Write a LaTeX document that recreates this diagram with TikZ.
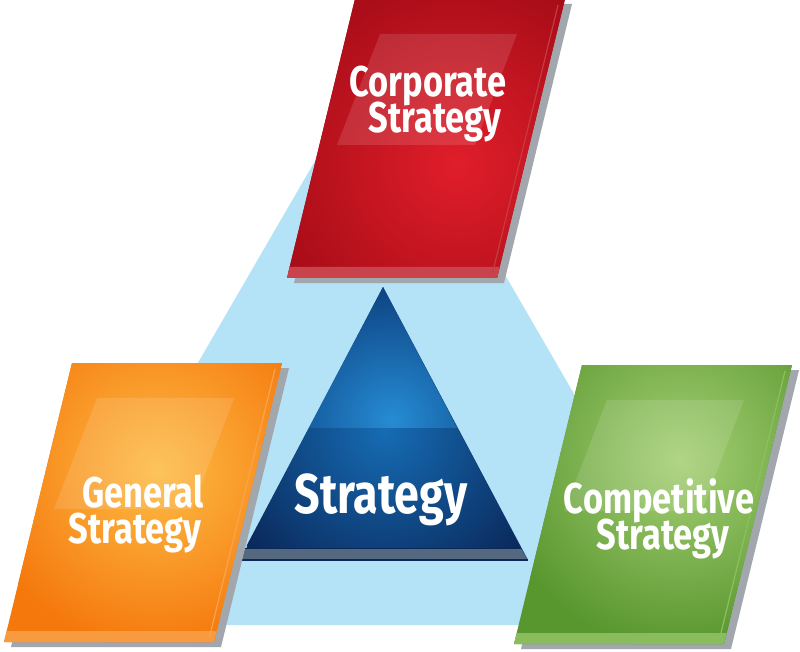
\documentclass[tikz,border=0pt]{standalone}
\usepackage{fontspec}
\usetikzlibrary{calc}
\newfontfamily\lblfont{Fira Sans}
\definecolor{lightbg}{HTML}{B4E2F6}
\definecolor{boxshadow}{HTML}{A2A7AE}
\definecolor{redbase}{HTML}{A50C17}
\definecolor{redlight}{HTML}{E01E2A}
\definecolor{redband}{HTML}{C8434C}
\definecolor{redrim}{HTML}{C63A44}
\definecolor{orbase}{HTML}{F5780C}
\definecolor{orlight}{HTML}{FDBC46}
\definecolor{orband}{HTML}{F89A40}
\definecolor{orrim}{HTML}{F9A350}
\definecolor{grbase}{HTML}{58962E}
\definecolor{grlight}{HTML}{A6D075}
\definecolor{grband}{HTML}{88BC5C}
\definecolor{grrim}{HTML}{8CC05C}
\definecolor{navy}{HTML}{0A3A78}
\definecolor{navydark}{HTML}{0A285A}
\definecolor{trimid}{HTML}{268CD4}
\definecolor{trilow}{HTML}{166CB4}
\definecolor{tristrip}{HTML}{546880}
\tikzset{
  lbl/.style={anchor=base, inner sep=0pt, text=white,
    font=\lblfont\bfseries\fontsize{43}{43}\selectfont},
  biglbl/.style={anchor=base, inner sep=0pt, text=white,
    font=\lblfont\bfseries\fontsize{56}{56}\selectfont},
}
\newcommand\bookbox[7]{%
  \begin{scope}[shift={#1}]
    \fill[boxshadow] (7,5) -- (217,5) -- (149,284) -- (-61,284) -- cycle;
    \fill[#2] (0,0) -- (210,0) -- (142,279) -- (-68,279) -- cycle;
    \begin{scope}
      \clip (0,0) -- (210,0) -- (142,279) -- (-68,279) -- cycle;
      \shade[inner color=#3, outer color=#2] #4 circle (#7);
    \end{scope}
    \fill[white, opacity=0.12] (25,35) -- (162,35) -- (120,146) -- (-18,146) -- cycle;
    \fill[#5] (-65.3,268) -- (144.7,268) -- (142,279) -- (-68,279) -- cycle;
    \draw[#6, line width=1.2pt] (203,6) -- (137.5,274);
  \end{scope}}
\newcommand\sx[1]{\scalebox{0.8}[1]{#1}}
\newcommand\twoline[2]{\vtop{\lineskiplimit=-60pt\baselineskip=36pt\lineskip=0pt
  \halign{\hfil##\hfil\cr #1\cr #2\cr}}}
\begin{document}
\begin{tikzpicture}[x=1pt,y=-1pt]
  \useasboundingbox (0,0) rectangle (800,652);
  \clip (0,0) rectangle (800,652);
  \fill[white] (0,0) rectangle (800,652);
  % light blue background triangle
  \fill[lightbg] (377,54) -- (708,625) -- (46,625) -- cycle;
  % central triangle
  \fill[navy] (383,287) -- (528,560) -- (240,560) -- cycle;
  \begin{scope}
    \clip (383,287) -- (457.3,428) -- (308.7,428) -- cycle;
    \shade[inner color=trimid, outer color=navy] (392,420) circle (150);
  \end{scope}
  \begin{scope}
    \clip (308.7,428) -- (457.3,428) -- (520.6,548) -- (245.4,548) -- cycle;
    \shade[inner color=trilow, outer color=navydark] (385,430) circle (180);
  \end{scope}
  \fill[tristrip] (245.4,548) -- (520.6,548) -- (528,560) -- (240,560) -- cycle;
  \draw[navydark, line width=1.5pt] (240,560) -- (528,560);
  \draw[navydark, line width=0.8pt] (245.4,548) -- (520.6,548);
  % boxes
  \bookbox{(355,-1)}{redbase}{redlight}{(102,165)}{redband}{redrim}{200}
  \bookbox{(72,363)}{orbase}{orlight}{(85,107)}{orband}{orrim}{180}
  \bookbox{(582,365)}{grbase}{grlight}{(98,95)}{grband}{grrim}{190}
  % labels
  \node[lbl] (corp) at (431.5,97) {\twoline{\sx{Corporate}\kern7pt}{\kern7pt\sx{Strategy}}};
  \node[lbl] (gen) at (139,507) {\twoline{\kern8pt\sx{General}}{\sx{Strategy}\kern8pt}};
  \node[lbl] (comp) at (661,513) {\twoline{\sx{Competitive}\kern4pt}{\kern4pt\sx{Strategy}}};
  \node[biglbl] (strat) at (381,513) {\sx{Strategy}};
\end{tikzpicture}
\end{document}
